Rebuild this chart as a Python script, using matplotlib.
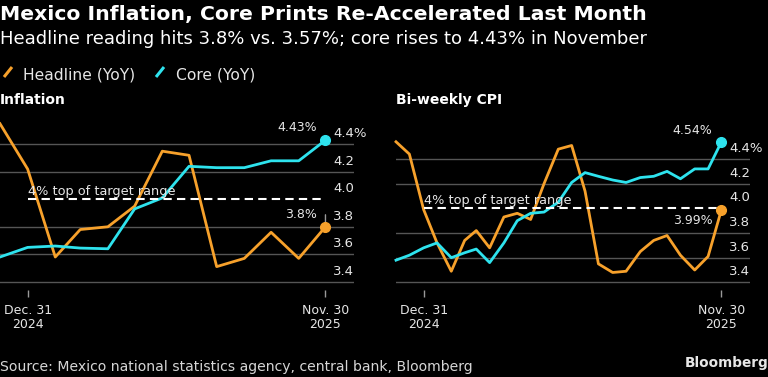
import matplotlib
matplotlib.use("Agg")
import matplotlib.pyplot as plt
import pandas as pd
from matplotlib.lines import Line2D
from matplotlib.transforms import ScaledTranslation, blended_transform_factory

W, H = 768, 377

# Monthly YoY prints, Nov 2024 .. Nov 2025
monthly_headline = [4.55, 4.22, 3.58, 3.78, 3.80, 3.95, 4.35, 4.32, 3.51, 3.57, 3.76, 3.57, 3.80]
monthly_core = [3.58, 3.65, 3.66, 3.645, 3.64, 3.93, 4.01, 4.24, 4.23, 4.23, 4.28, 4.28, 4.43]

# Bi-weekly YoY prints, 2H Nov 2024 .. 2H Nov 2025
biweekly_headline = [4.54, 4.44, 3.99, 3.72, 3.49, 3.74, 3.82, 3.68, 3.93, 3.96, 3.91, 4.20, 4.48,
                     4.51, 4.14, 3.55, 3.48, 3.49, 3.65, 3.74, 3.78, 3.62, 3.50, 3.61, 3.99]
biweekly_core = [3.58, 3.62, 3.68, 3.72, 3.60, 3.64, 3.67, 3.56, 3.72, 3.90, 3.96, 3.97, 4.05,
                 4.21, 4.29, 4.26, 4.23, 4.21, 4.25, 4.26, 4.30, 4.24, 4.32, 4.32, 4.54]

monthly_dates = pd.date_range("2024-11-30", periods=13, freq="ME")
try:
    biweekly_dates = pd.date_range("2024-11-30", "2025-11-30", freq="SME")
except ValueError:
    biweekly_dates = pd.date_range("2024-11-30", "2025-11-30", freq="SM")

y_ticks = [3.4, 3.6, 3.8, 4.0, 4.2, 4.4]
x_ticks = [pd.Timestamp("2024-12-31"), pd.Timestamp("2025-11-30")]
x_ticklabels = ["Dec. 31\n2024", "Nov. 30\n2025"]
target = 4.0
target_label = "4% top of target range"

ORANGE = "#f7a12b"
CYAN = "#2ee3ee"
GRID = "#555555"
TXT = "#e6e6e6"

plt.rcParams["font.family"] = ["DejaVu Sans"]


def px_rect(left, top, right, bottom):
    return [left / W, 1 - bottom / H, (right - left) / W, (bottom - top) / H]


def px_y(y):
    return 1 - y / H


def draw_panel(ax, dates, headline, core, ylim, title, core_off, head_off, leader=False):
    ax.set_facecolor("black")
    for v in y_ticks:
        if v != target:
            ax.axhline(v, color=GRID, lw=1, zorder=1)
    ax.plot(dates, headline, color=ORANGE, lw=2, zorder=3, clip_on=False)
    ax.plot(dates, core, color=CYAN, lw=2, zorder=3, clip_on=False)
    ax.plot(dates[-1:], headline[-1:], "o", ms=7, color=ORANGE, zorder=6, clip_on=False)
    ax.plot(dates[-1:], core[-1:], "o", ms=7, color=CYAN, zorder=6, clip_on=False)

    # 4% target line, drawn from the first tick to the latest print
    ax.plot([x_ticks[0], dates[-1]], [target, target], color="white", lw=1.5,
            ls=(0, (4, 2.5)), zorder=5)
    ax.annotate(target_label, xy=(x_ticks[0], target), xytext=(0, 4), textcoords="offset pixels",
                ha="left", va="baseline", color=TXT, fontsize=9.3, zorder=7)

    if leader:
        ax.annotate("", xy=(dates[-1], headline[-1]), xytext=(0, 12), textcoords="offset pixels",
                    arrowprops=dict(arrowstyle="-", color="#999999", lw=1, shrinkA=0, shrinkB=0),
                    zorder=4)
    ax.annotate(f"{core[-1]:.2f}%", xy=(dates[-1], core[-1]), xytext=core_off,
                textcoords="offset pixels", ha="right", va="baseline", color=TXT, fontsize=9)
    head_txt = f"{headline[-1]:.2f}%".replace("3.80", "3.8")
    ax.annotate(head_txt, xy=(dates[-1], headline[-1]), xytext=head_off,
                textcoords="offset pixels", ha="right", va="baseline", color=TXT, fontsize=9)

    ax.set_xlim(pd.Timestamp("2024-11-30"), pd.Timestamp("2026-01-01"))
    ax.set_ylim(*ylim)
    ax.set_yticks([])
    ax.set_xticks(x_ticks)
    ax.set_xticklabels(x_ticklabels, linespacing=1.15)
    ax.tick_params(axis="x", direction="out", length=5, width=1, color="#9a9a9a", pad=5,
                   labelcolor=TXT, labelsize=9)
    for s in ax.spines.values():
        s.set_visible(False)

    # y labels sit just above their gridlines, right-aligned to the plot edge
    base = blended_transform_factory(ax.transAxes, ax.transData)
    for v in y_ticks:
        if v == y_ticks[-1]:
            tf = base + ScaledTranslation(13 / 100, 7 / 100, fig.dpi_scale_trans)
            label = f"{v:.1f}%"
        else:
            tf = base + ScaledTranslation(0, 7 / 100, fig.dpi_scale_trans)
            label = f"{v:.1f}"
        ax.text(1, v, label, transform=tf, ha="right", va="baseline", color=TXT, fontsize=9.5)

    bb = ax.get_position()
    fig.text(bb.x0, px_y(104), title, ha="left", va="baseline", color="white",
             fontsize=10, fontweight="bold")


fig = plt.figure(figsize=(W / 100, H / 100), dpi=100, facecolor="black")
ax1 = fig.add_axes(px_rect(0, 116, 354, 290))
ax2 = fig.add_axes(px_rect(396, 116, 750, 290))

draw_panel(ax1, monthly_dates, monthly_headline, monthly_core, (3.34, 4.606), "Inflation",
           core_off=(-8, 9), head_off=(-9, 9), leader=True)
draw_panel(ax2, biweekly_dates, biweekly_headline, biweekly_core, (3.338, 4.749), "Bi-weekly CPI",
           core_off=(-9, 8), head_off=(-9, -14))

fig.text(0, px_y(20), "Mexico Inflation, Core Prints Re-Accelerated Last Month",
         ha="left", va="baseline", color="white", fontsize=14.7, fontweight="bold")
fig.text(0, px_y(44), "Headline reading hits 3.8% vs. 3.57%; core rises to 4.43% in November",
         ha="left", va="baseline", color="white", fontsize=13)

# legend
for x0, color, x_txt, label in [(4, ORANGE, 23, "Headline (YoY)"), (156, CYAN, 176, "Core (YoY)")]:
    fig.add_artist(Line2D([x0 / W, (x0 + 8) / W], [px_y(77), px_y(67)], color=color, lw=2.2,
                          solid_capstyle="butt"))
    fig.text(x_txt / W, px_y(79), label, ha="left", va="baseline", color=TXT, fontsize=11.2)

fig.text(0, px_y(371), "Source: Mexico national statistics agency, central bank, Bloomberg",
         ha="left", va="baseline", color="#d6d6d6", fontsize=10.1)
fig.text(1, px_y(367), "Bloomberg", ha="right", va="baseline", color="#e6e6e6",
         fontsize=9.8, fontweight="bold")

fig.savefig("out.png", dpi=100, facecolor="black")
